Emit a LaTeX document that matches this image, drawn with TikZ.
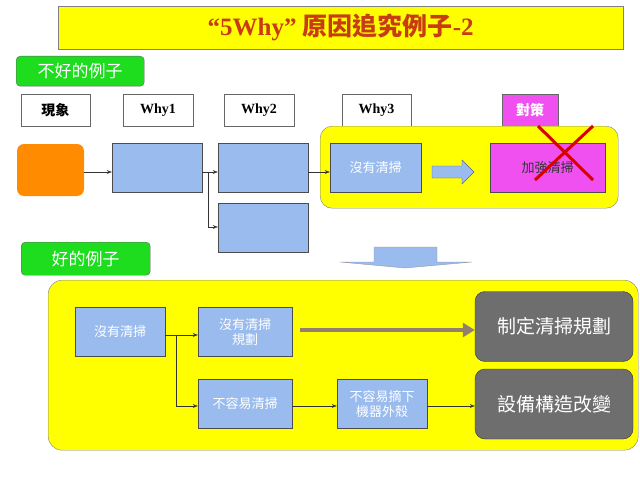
\documentclass[tikz,border=0pt]{standalone}
\usepackage{fontspec}
\setmainfont{Liberation Serif}
\newfontfamily\cjk{Noto Sans CJK TC}
\usetikzlibrary{arrows.meta}
\definecolor{yel}{RGB}{255,255,0}
\definecolor{blu}{RGB}{153,187,238}
\definecolor{grn}{RGB}{30,220,30}
\definecolor{mag}{RGB}{240,80,240}
\definecolor{gry}{RGB}{110,110,110}
\definecolor{ttl}{RGB}{200,60,20}
\tikzset{
 bx/.style={draw=black!70, fill=blu, minimum width=#1, minimum height=49pt, inner sep=1pt, text=white, font=\cjk\fontsize{13}{15}\selectfont, align=center},
 bx/.default=90pt,
 hdr/.style={draw=black!60, fill=white, minimum height=32pt, font=\bfseries\fontsize{14}{16}\selectfont},
 lab/.style={draw=black!60, fill=grn, rounded corners=4pt, text=white, font=\cjk\fontsize{17}{19}\selectfont, minimum height=30pt},
 gbx/.style={draw=black!80, fill=gry, rounded corners=10pt, minimum width=158pt, minimum height=70pt, text=white, font=\cjk\fontsize{19}{22}\selectfont},
 con/.style={-{Stealth[length=5pt]}, thin, black!80},
}
\begin{document}
\begin{tikzpicture}[x=1pt,y=-1pt]
\useasboundingbox (0,0) rectangle (640,495);
\fill[white] (0,0) rectangle (640,495);
% title
\node[draw=black!50, fill=yel, minimum width=565pt, minimum height=43pt, anchor=north west, text=ttl, font=\bfseries\fontsize{25}{28}\selectfont] (title) at (58,6) {“5Why” {\cjk 原因追究例子}-2};
\node[lab, anchor=north west, minimum width=128pt] (bad) at (16,56) {不好的例子};
% headers
\node[hdr, minimum width=69pt] (h0) at (55.5,110) {\cjk\bfseries 現象};
\node[hdr, minimum width=70pt] (h1) at (158,110) {Why1};
\node[hdr, minimum width=70pt] (h2) at (259,110) {Why2};
\node[hdr, minimum width=69pt] (h3) at (376.5,110) {Why3};
\node[hdr, minimum width=56pt, fill=mag, text=white] (h4) at (530,110) {\cjk\bfseries 對策};
% yellow box top
\node[draw=black!50, fill=yel, rounded corners=12pt, minimum width=298pt, minimum height=82pt, anchor=north west] (ytop) at (320,126) {};
\node[draw=none, fill=orange!90!yellow, rounded corners=7pt, minimum width=67pt, minimum height=52pt] (orb) at (50.5,170) {};
\node[bx] (w1) at (157,167.5) {};
\node[bx] (w2) at (263,167.5) {};
\node[bx] (w2b) at (263,227.5) {};
\node[bx=91pt] (w3) at (375.5,167.5) {沒有清掃};
\node[bx=115pt, fill=mag, text=black!80] (ctr) at (547.5,167.5) {加強清掃};
\draw[draw=black!60, fill=blu] (432,166)--(462,166)--(462,160)--(474,172)--(462,184)--(462,178)--(432,178)--cycle;
\draw[red!85!black, line width=3pt] (538,126)--(593,180) (593,126)--(535,180);
\coordinate (s1) at (208,172);
\draw[con] (orb.east|-0,172) -- (w1.west|-0,172);
\draw[con] (w1.east|-0,172) -- (w2.west|-0,172);
\draw[con] (s1) |- (w2b.west|-0,227);
\draw[con] (w2.east|-0,172) -- (w3.west|-0,172);
% good example
\node[lab, anchor=north west, minimum width=129pt, minimum height=33pt] (good) at (21,242) {好的例子};
\draw[draw=black!40, fill=blu] (374,247)--(437,247)--(437,262)--(472,262)--(405,268)--(340,262)--(374,262)--cycle;
\node[draw=black!50, fill=yel, rounded corners=14pt, minimum width=590pt, minimum height=170pt, anchor=north west] (ybot) at (48,280) {};
\node[bx] (g1) at (120,332) {沒有清掃};
\node[bx=94pt] (g2) at (245,332) {沒有清掃\\規劃};
\node[bx=94pt] (g3) at (245,404) {不容易清掃};
\node[bx] (g4) at (382,404) {不容易摘下\\機器外殼};
\node[gbx] (r1) at (554,326.5) {制定清掃規劃};
\node[gbx] (r2) at (554,404) {設備構造改變};
\coordinate (s2) at (176,335);
\draw[con] (g1.east|-0,335) -- (g2.west|-0,335);
\draw[con] (s2) |- (g3.west|-0,406);
\draw[con] (g3.east|-0,406) -- (g4.west|-0,406);
\draw[con] (g4.east|-0,406) -- (r2.west|-0,406);
\draw[-{Triangle[length=12pt,width=14pt]}, line width=4pt, color=gray!70!brown] (300,330) -- (r1.west|-0,330);
\end{tikzpicture}
\end{document}
